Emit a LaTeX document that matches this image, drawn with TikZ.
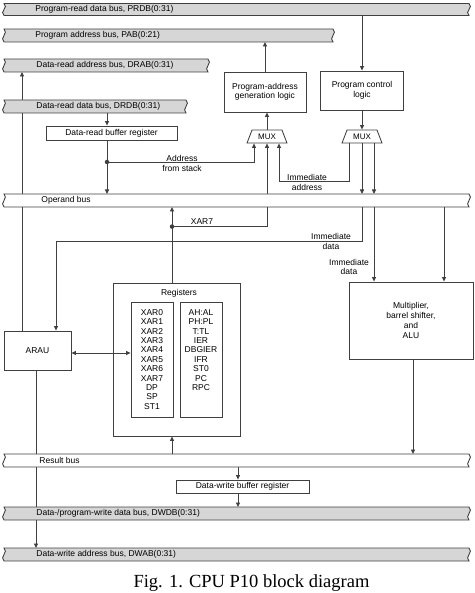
\documentclass[tikz,border=0pt]{standalone}
\usepackage{fontspec}
\setmainfont{Liberation Serif}
\newfontfamily\diagfont{Liberation Sans}
\usetikzlibrary{arrows.meta,calc,shapes.geometric}
\definecolor{linec}{HTML}{404040}
\definecolor{busgray}{HTML}{D6D6D6}
\newcommand{\busoutline}[2]{%
  \draw[draw=linec, fill=#2, line width=0.9pt] (#1.north west) -- (#1.north east)
    .. controls ($(#1.north east)+(5,4)$) and ($(#1.south east)+(-5,-4)$) .. (#1.south east)
    -- (#1.south west)
    .. controls ($(#1.south west)+(-5,-4)$) and ($(#1.north west)+(5,4)$) .. (#1.north west) -- cycle;}
\begin{document}
\begin{tikzpicture}[x=1pt,y=-1pt,
  font=\diagfont\fontsize{8.5}{9.5}\selectfont,
  line width=0.85pt,
  conn/.style={draw=linec,-{Triangle[length=4.5pt,width=4pt]}},
  dconn/.style={draw=linec,{Triangle[length=4.5pt,width=4pt]}-{Triangle[length=4.5pt,width=4pt]}},
  plain/.style={draw=linec},
  box/.style={draw=linec, fill=white, inner sep=0pt, align=center},
  buspos/.style={inner sep=0pt, outer sep=0pt, minimum height=13pt},
  lbl/.style={inner sep=0pt, align=center},
  mux/.style={trapezium, draw=linec, fill=white, trapezium stretches=true,
    minimum width=40pt, minimum height=13pt, trapezium left angle=62,
    trapezium right angle=62, inner sep=0pt, font=\diagfont\fontsize{8}{8}\selectfont},
  dot/.style={circle, fill=linec, inner sep=0pt, minimum size=4.5pt},
  reglist/.style={lbl, font=\diagfont\fontsize{8.5}{9.4}\selectfont}]
\useasboundingbox (0,0) rectangle (474,593);

% bus placeholders
\node[buspos, minimum width=465pt, minimum height=12pt] (prdb) at (236.5,9.5) {};
\node[buspos, minimum width=329pt] (pab) at (168.5,35.5) {};
\node[buspos, minimum width=204pt] (drab) at (106,65.5) {};
\node[buspos, minimum width=182pt] (drdb) at (95,106.5) {};
\node[buspos, minimum width=465pt] (opbus) at (236.5,200.5) {};
\node[buspos, minimum width=465pt] (resbus) at (236.5,460.5) {};
\node[buspos, minimum width=465pt] (dwdb) at (236.5,513.5) {};
\node[buspos, minimum width=465pt] (dwab) at (236.5,554.5) {};

% boxes
\node[box, minimum width=82pt, minimum height=40pt] (pgl) at (265,92) {Program-address\\generation logic};
\node[box, minimum width=83pt, minimum height=39pt] (pcl) at (362,90.5) {Program control\\logic};
\node[mux] (mux1) at (267,136.5) {MUX};
\node[mux] (mux2) at (362,136.5) {MUX};
\node[box, minimum width=131pt, minimum height=14pt] (drbr) at (111.5,133) {Data-read buffer register};
\node[box, minimum width=133pt, minimum height=13pt] (dwbr) at (242.5,486.5) {Data-write buffer register};
\node[box, minimum width=67pt, minimum height=39pt] (arau) at (37.5,350.5) {ARAU};
\node[box, minimum width=127pt, minimum height=153pt] (regs) at (176.5,359.5) {};
\node[lbl] (regst) at (179,293) {Registers};
\node[box, minimum width=42pt, minimum height=115pt] (regL) at (152,359.5) {};
\node[box, minimum width=42pt, minimum height=115pt] (regR) at (201,359.5) {};
\node[reglist, anchor=north] (regLt) at (152,309) {XAR0\\XAR1\\XAR2\\XAR3\\XAR4\\XAR5\\XAR6\\XAR7\\DP\\SP\\ST1};
\node[reglist, anchor=north] (regRt) at (201,309) {AH:AL\\PH:PL\\T:TL\\IER\\DBGIER\\IFR\\ST0\\PC\\RPC};
\node[box, minimum width=124pt, minimum height=77pt, font=\diagfont\fontsize{8.5}{10}\selectfont] (mba) at (411,320.5) {Multiplier,\\barrel shifter,\\and\\ALU};

% helper coordinates
\coordinate (m1a) at ($(mux1.south)+(-13,0)$);
\coordinate (m1b) at (mux1.south);
\coordinate (m1c) at ($(mux1.south)+(12,0)$);
\coordinate (m2a) at ($(mux2.south)+(-13,0)$);
\coordinate (m2b) at (mux2.south);
\coordinate (m2c) at ($(mux2.south)+(12,0)$);
\coordinate (drx) at (107,0);
\coordinate (rtop) at ($(regs.north)+(-4.5,0)$);
\coordinate (rbot) at ($(regs.south)+(-4.5,0)$);
\coordinate (aul) at ($(arau.north)+(-15.5,0)$);
\coordinate (aur) at ($(arau.north)+(18.5,0)$);
\coordinate (aub) at ($(arau.south)+(-1.5,0)$);
\coordinate (ar) at ($(arau.east)+(0,2.5)$);
\coordinate (mbr) at ($(mba.north)+(33,0)$);
\coordinate (mbb) at ($(mba.south)+(2,0)$);
\coordinate (dwx) at ($(dwbr.north)+(-4.5,0)$);
\coordinate (dwy) at ($(dwbr.south)+(-4.5,0)$);

% connectors
\draw[conn] (pgl.north) -- (pgl.north |- pab.south);
\draw[conn] (mux1.north) -- (mux1.north |- pgl.south);
\draw[conn] (pcl.north |- prdb.south) -- (pcl.north);
\draw[conn] (pcl.south) -- (pcl.south |- mux2.north);
\draw[conn] (m2a) -- ++(0,38) -| (m1c);
\node[lbl] (immaddr) at (307,182.5) {Immediate\\address};
\draw[conn] (m2b) -- (m2b |- opbus.north);
\draw[conn] (m2c) -- (m2c |- opbus.north);
\draw[conn] (m2b |- opbus.south) -- ++(0,34) -| (aur);
\node[lbl] (immdata1) at (331,241.5) {Immediate\\data};
\draw[conn] (m2c |- opbus.south) -- (m2c |- mba.north);
\node[lbl] (immdata2) at (349,267) {Immediate\\data};
\draw[conn] (mbr |- opbus.south) -- (mbr);
\draw[conn] (drx |- drdb.south) -- (drx |- drbr.north);
\draw[conn] (drx |- drbr.south) -- (drx |- opbus.north);
\node[dot] (dot1) at (107,162) {};
\draw[conn] (dot1.center) -| (m1a);
\node[lbl] (afs) at (182,163.5) {Address\\from stack};
\draw[conn] (rtop) -- (rtop |- opbus.south);
\node[dot] (dot2) at ($(rtop)+(0,-56)$) {};
\draw[conn] (dot2.center) -| (m1b);
\node[lbl, anchor=south] (xar7) at (202,225) {XAR7};
\draw[conn] (aul) -- (aul |- drab.south);
\draw[dconn] (ar) -- (ar -| regL.west);
\draw[conn] (aub) -- (aub |- dwab.north);
\draw[conn] (rbot |- resbus.north) -- (rbot);
\draw[conn] (mbb) -- (mbb |- resbus.north);
\draw[conn] (dwx |- resbus.south) -- (dwx);
\draw[conn] (dwy) -- (dwy |- dwdb.north);

% buses drawn over lines
\busoutline{prdb}{busgray}
\busoutline{pab}{busgray}
\busoutline{drab}{busgray}
\busoutline{drdb}{busgray}
\busoutline{opbus}{white}
\busoutline{resbus}{white}
\busoutline{dwdb}{busgray}
\busoutline{dwab}{busgray}

% bus labels
\node[lbl, anchor=west] (prdbl) at ($(prdb.west)+(31,0)$) {Program-read data bus, PRDB(0:31)};
\node[lbl, anchor=west] (pabl) at ($(pab.west)+(31,0)$) {Program address bus, PAB(0:21)};
\node[lbl, anchor=west] (drabl) at ($(drab.west)+(32,0)$) {Data-read address bus, DRAB(0:31)};
\node[lbl, anchor=west] (drdbl) at ($(drdb.west)+(32,0)$) {Data-read data bus, DRDB(0:31)};
\node[lbl, anchor=west] (opbusl) at ($(opbus.west)+(37,0)$) {Operand bus};
\node[lbl, anchor=west] (resbusl) at ($(resbus.west)+(35,0)$) {Result bus};
\node[lbl, anchor=west] (dwdbl) at ($(dwdb.west)+(32,0)$) {Data-/program-write data bus, DWDB(0:31)};
\node[lbl, anchor=west] (dwabl) at ($(dwab.west)+(32,0)$) {Data-write address bus, DWAB(0:31)};

% caption
\node[lbl, font=\rmfamily\fontsize{18.5}{20}\selectfont] (cap) at (251.5,583) {Fig. 1. CPU P10 block diagram};
\end{tikzpicture}
\end{document}
